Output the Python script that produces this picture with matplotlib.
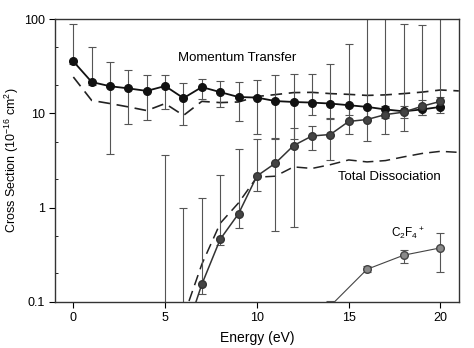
import matplotlib
matplotlib.use("Agg")
import matplotlib.pyplot as plt
import numpy as np

plt.rcParams["font.family"] = ["Liberation Sans", "DejaVu Sans"]
plt.rcParams["mathtext.fontset"] = "custom"
plt.rcParams["mathtext.rm"] = "Liberation Sans"
plt.rcParams["mathtext.it"] = "Liberation Sans:italic"

# Momentum transfer (measured)
mt_x = np.arange(0, 21)
mt_y = [35.6, 21.5, 19.4, 18.4, 17.3, 19.5, 14.5, 19.0, 16.8, 14.9, 14.7,
        13.5, 13.2, 13.0, 12.7, 12.2, 11.7, 11.0, 10.5, 11.0, 11.7]
mt_lo = [33, 20, 3.67, 7.64, 8.57, 11.1, 7.46, 14.3, 11.7, 8.2, 6.0,
         5.4, 5.3, 9.5, 9.0, 9.5, 9.0, 9.0, 9.0, 9.5, 10.0]
mt_hi = [89.6, 50.6, 35, 28.6, 25.5, 25.5, 21, 23.1, 21.9, 21.5, 22.8,
         25.3, 25.9, 26.4, 33.7, 55, 200, 200, 89.6, 87, 200]

# Momentum transfer (calculated, dashed)
mtc_x = np.arange(0, 22)
mtc_y = [24.3, 13.7, 12.7, 11.7, 10.7, 12.7, 9.5, 13.4, 13.0, 13.2, 15.1,
         15.8, 16.6, 16.7, 16.2, 15.9, 15.5, 15.7, 16.2, 16.8, 17.7, 17.3]

# Total dissociation (measured)
td_x = np.arange(5, 21)
td_y = [0.01, 0.04, 0.153, 0.46, 0.86, 2.16, 2.95, 4.55, 5.75, 5.96,
        8.2, 8.6, 9.7, 10.3, 11.9, 13.4]
td_lo = [0.01, 0.04, 0.12, 0.4, 0.6, 1.5, 0.57, 0.62, 4.06, 3.23,
         6.1, 5.1, 6.0, 6.5, 9.5, 12]
td_hi = [3.6, 1.0, 1.26, 2.2, 4.19, 5.3, 5.5, 7.0, 7.4, 8.7,
         12, 12, 12, 12, 14, 15]

# Total dissociation (calculated, dashed)
tdc_x = np.arange(6, 22)
tdc_y = [0.069, 0.25, 0.68, 1.12, 2.1, 2.15, 2.7, 2.6, 2.85, 3.2,
         3.05, 3.15, 3.45, 3.75, 3.95, 3.85]

# C2F4+
c2_x = [14, 16, 18, 20]
c2_y = [0.09, 0.221, 0.312, 0.373]
c2_lo = [0.09, 0.205, 0.258, 0.207]
c2_hi = [0.102, 0.24, 0.352, 0.53]


def yerr(y, lo, hi):
    y = np.array(y)
    return [y - np.array(lo), np.array(hi) - y]


fig = plt.figure(figsize=(4.74, 3.48), dpi=100)
ax = fig.add_axes([0.116, 0.133, 0.852, 0.812])

ax.plot(mtc_x, mtc_y, color="#222222", lw=1.2, dashes=(7, 4))
ax.plot(tdc_x, tdc_y, color="#222222", lw=1.1, dashes=(7, 4))

ax.errorbar(mt_x, mt_y, yerr=yerr(mt_y, mt_lo, mt_hi), fmt="o-", color="#111111",
            ms=5.5, lw=1.3, ecolor="#555555", elinewidth=0.8, capsize=3, capthick=0.8)
ax.errorbar(td_x, td_y, yerr=yerr(td_y, td_lo, td_hi), fmt="o-", color="#333333",
            mfc="#444444", ms=5.5, lw=1.1, ecolor="#555555", elinewidth=0.8,
            capsize=3, capthick=0.8)
ax.errorbar(c2_x, c2_y, yerr=yerr(c2_y, c2_lo, c2_hi), fmt="o-", color="#444444",
            mfc="#8a8a8a", mec="#444444", ms=5.5, lw=0.8, ecolor="#555555",
            elinewidth=0.8, capsize=3, capthick=0.8)

ax.text(8.9, 39, "Momentum Transfer", fontsize=9.5, ha="center", va="center")
ax.text(17.2, 2.1, "Total Dissociation", fontsize=9.5, ha="center", va="center")
ax.text(18.2, 0.53, r"C$_2$F$_4$$^+$", fontsize=8.5, ha="center", va="center")

ax.set_yscale("log")
ax.set_xlim(-1, 21)
ax.set_ylim(0.1, 100)
ax.set_xticks([0, 5, 10, 15, 20])
ax.set_yticks([0.1, 1, 10, 100])
ax.set_yticklabels(["0.1", "1", "10", "100"])
ax.set_yticks([0.2, 0.5, 2, 5, 20, 50], minor=True)
ax.yaxis.set_minor_formatter(plt.NullFormatter())
ax.tick_params(which="major", direction="out", length=4, labelsize=9)
ax.tick_params(which="minor", direction="in", length=2)
for s in ax.spines.values():
    s.set_color("#333333")
    s.set_linewidth(1.0)

ax.set_xlabel("Energy (eV)", fontsize=10, labelpad=5)
ax.set_ylabel(r"Cross Section (10$^{-16}$ cm$^{2}$)", fontsize=9)
ax.yaxis.set_label_coords(-0.083, 0.5)

fig.savefig("out.png", dpi=100)
